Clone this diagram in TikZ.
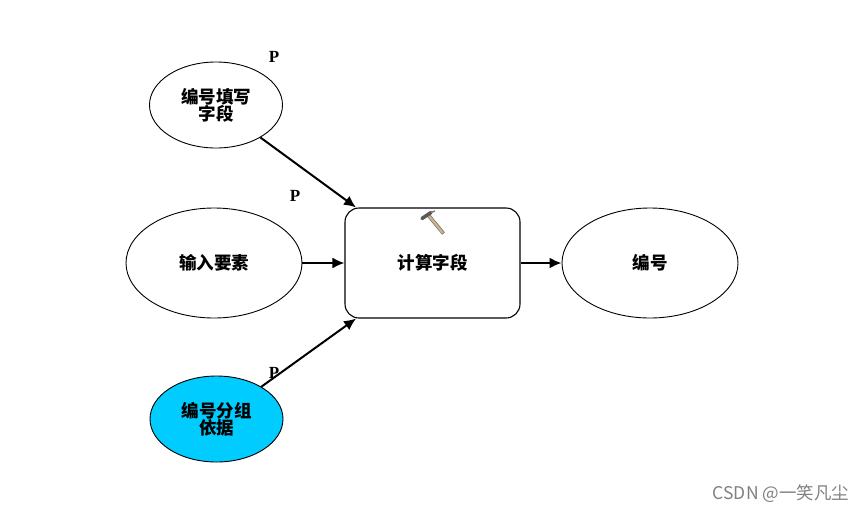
\documentclass[tikz,border=0pt]{standalone}
\usepackage{fontspec}
\setmainfont{Liberation Serif}
\newfontfamily\cjk{Noto Sans CJK SC}[BoldFont={* Black}]
\newfontfamily\markfont{Noto Sans CJK SC}
\usetikzlibrary{shapes.geometric,arrows.meta}
\definecolor{groupblue}{HTML}{00CCFF}
\definecolor{handletan}{HTML}{CDB38B}
\tikzset{
  dataset/.style={draw,ellipse,line width=0.9pt,inner sep=0pt,align=center,font=\cjk\bfseries\fontsize{17.5}{17}\selectfont},
  tool/.style={draw,rectangle,rounded corners=14pt,line width=1.1pt,minimum width=175pt,minimum height=110pt,font=\cjk\bfseries\fontsize{17.5}{17}\selectfont},
  link/.style={-{Latex[length=12pt,width=11pt]},line width=2pt},
  param/.style={font=\bfseries\fontsize{17}{17}\selectfont,inner sep=0pt}
}
\begin{document}
\begin{tikzpicture}[x=1pt,y=-1pt]
      \useasboundingbox (0,0) rectangle (865,512);
      \node[dataset,minimum width=133pt,minimum height=86pt] (fill) at (216,105) {编号填写\\字段};
      \node[dataset,minimum width=176pt,minimum height=110pt] (input) at (214,263) {输入要素};
      \node[dataset,minimum width=133pt,minimum height=86pt,fill=groupblue] (group) at (216.5,419) {编号分组\\依据};
      \node[tool] (calc) at (432.5,263) {计算字段};
      \node[dataset,minimum width=176pt,minimum height=110pt] (result) at (650,263) {编号};
      \draw[link] (fill) -- (calc.144);
      \draw[link] (input) -- (calc);
      \draw[link] (group) -- (calc.216);
      \draw[link] (calc) -- (result);
      \node[param] (pfill) at (274,57) {P};
      \node[param] (pinput) at (295,196) {P};
      \node[param] (pgroup) at (274,373) {P};
      % hammer
      \draw[line width=3.6pt,black!60] (429,216) -- (443.5,233.5);
      \draw[line width=2.4pt,handletan] (429,216) -- (443,233);
      \draw[line width=3.5pt,black!65,line cap=round] (422,218.5) -- (431,212.5);
      \draw[line width=1.5pt,black!50] (431,212.5) -- (435,211);
      \node[font=\markfont\fontsize{17.5}{17.5}\selectfont,text=black!50,inner sep=0pt] (mark) at (781,494) {CSDN @一笑凡尘};
    \end{tikzpicture}
\end{document}
